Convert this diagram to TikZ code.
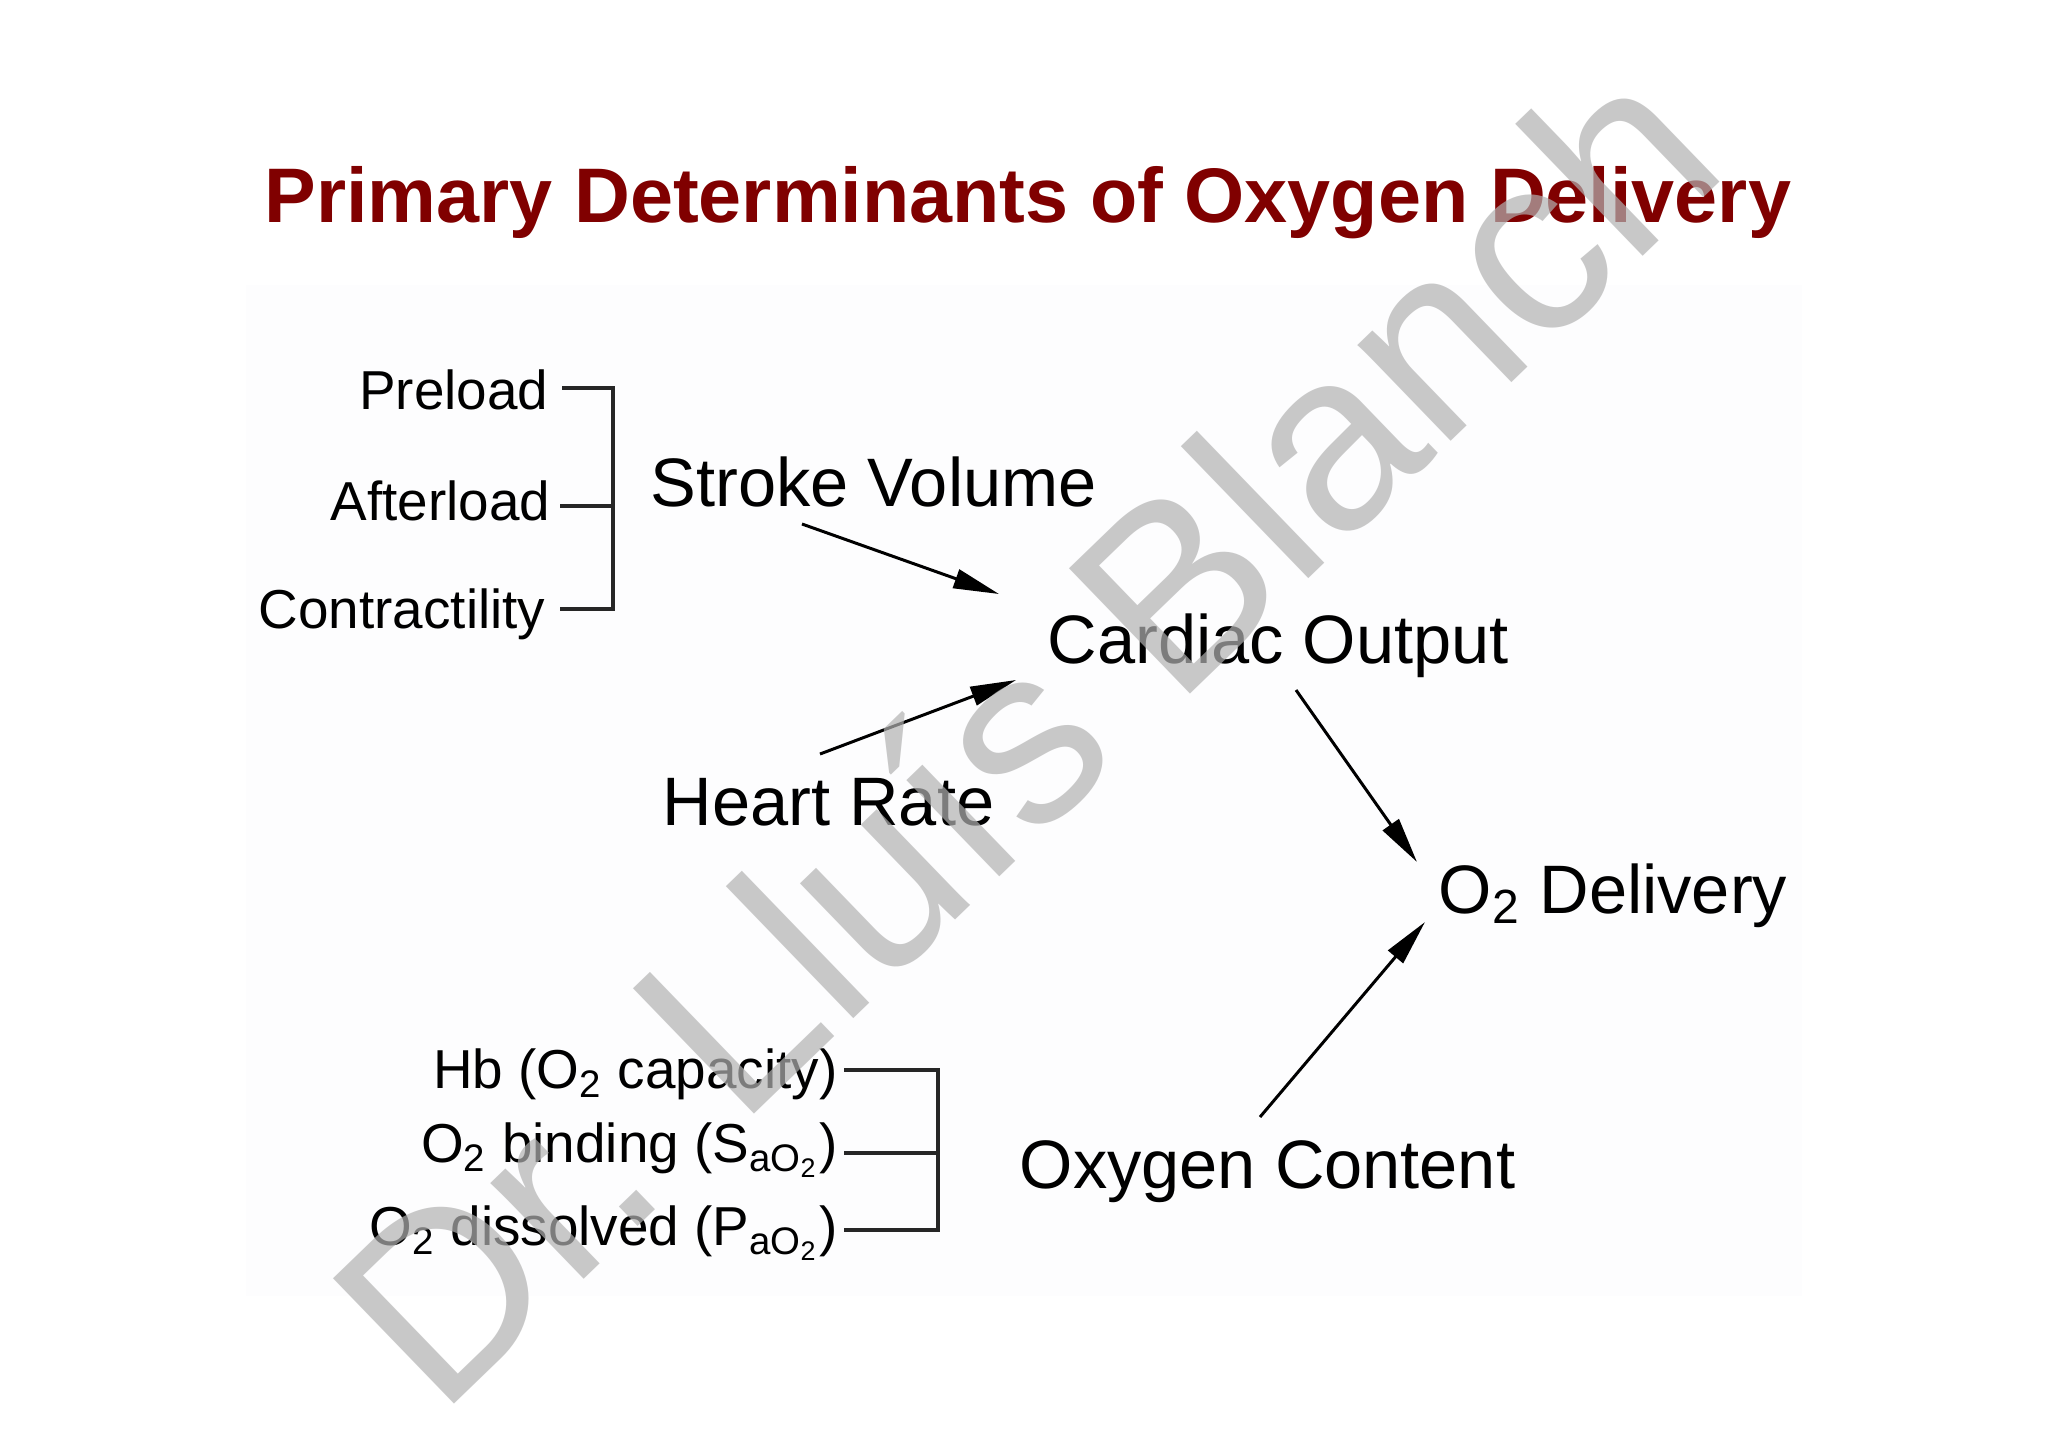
\documentclass[tikz,border=0pt]{standalone}
\usepackage{fontspec}
\setmainfont{Liberation Sans}
\usepackage{xcolor}
\usetikzlibrary{
    positioning,
    arrows.meta,
    calc
}
\definecolor{titlered}{RGB}{128,0,0}
\definecolor{panelgray}{RGB}{253,253,254}
\tikzset{
    biglabel/.style={
        inner sep=0pt, anchor=base west,
        font=\fontsize{19.5pt}{22pt}\selectfont
    },
    smalllabel/.style={
        inner sep=0pt, anchor=base east,
        font=\fontsize{15.6pt}{18pt}\selectfont
    },
    arrow/.style={
        -{Triangle[length=13pt, width=5.5pt]}, line width=0.85pt, draw=black
    },
    bracket/.style={
        line width=1.1pt, draw=black!85
    }
}

\begin{document}
\begin{tikzpicture}[
        x=0.01cm, y=-0.01cm,
        title/.style={inner sep=0pt, anchor=base, text=titlered, font=\fontsize{22pt}{26pt}\selectfont\bfseries},
        watermark/.style={inner sep=0pt, rotate=44, text=black!30, text opacity=0.7, font=\fontsize{72pt}{84pt}\selectfont}
    ]
    \useasboundingbox (0,0) rectangle (2048,1447);
    \fill[white] (0,0) rectangle (2048,1447);
    \fill[panelgray] (246,285) rectangle (1802,1296);

    % Title
    \node[title] (title) at (1028,222) {Primary Determinants of Oxygen Delivery};

    % Cardiac output
    \node[biglabel] (sv) at (650,506) {Stroke Volume};
    \node[biglabel] (co) at (1047,663) {Cardiac Output};
    \node[biglabel] (hr) at (662,825) {Heart Rate};

    % Delivery and content
    \node[biglabel] (od) at (1438,913) {O\textsubscript{2} Delivery};
    \node[biglabel] (oc) at (1019,1188) {Oxygen Content};

    % Stroke volume factors
    \node[smalllabel] (pre) at (549,409) {Preload};
    \node[smalllabel] (aft) at (551,520) {Afterload};
    \node[smalllabel] (con) at (546,628) {Contractility};

    % Oxygen content factors
    \node[smalllabel] (hb) at (838,1088) {Hb (O\textsubscript{2} capacity)};
    \node[smalllabel] (bind) at (838,1162) {O\textsubscript{2} binding (S\textsubscript{aO\textsubscript{2}})};
    \node[smalllabel] (diss) at (838,1245) {O\textsubscript{2} dissolved (P\textsubscript{aO\textsubscript{2}})};

    % Brackets
    \draw[bracket] ($(pre.base east)+(13,-21)$) -| ($(con.base east)+(67,-19)$) -- ($(con.base east)+(14,-19)$);
    \draw[bracket] ($(aft.base east)+(9,-14)$) -- ++(53,0);
    \draw[bracket] ($(hb.base east)+(6,-18)$) -| ($(diss.base east)+(100,-15)$) -- ($(diss.base east)+(6,-15)$);
    \draw[bracket] ($(bind.base east)+(6,-9)$) -- ++(94,0);

    % Arrows
    \draw[arrow] ($(sv.base west)+(152,18)$) -- ($(co.base west)+(-48,-69)$);
    \draw[arrow] ($(hr.base west)+(158,-71)$) -- ($(co.base west)+(-31,17)$);
    \draw[arrow] ($(co.base west)+(249,27)$) -- ($(od.base west)+(-21,-51)$);
    \draw[arrow] ($(oc.base west)+(241,-71)$) -- ($(od.base west)+(-13,9)$);

    % Watermark
    \node[watermark] (mark) at (1022,728) {Dr. Lluís Blanch};

\end{tikzpicture}
\end{document}
